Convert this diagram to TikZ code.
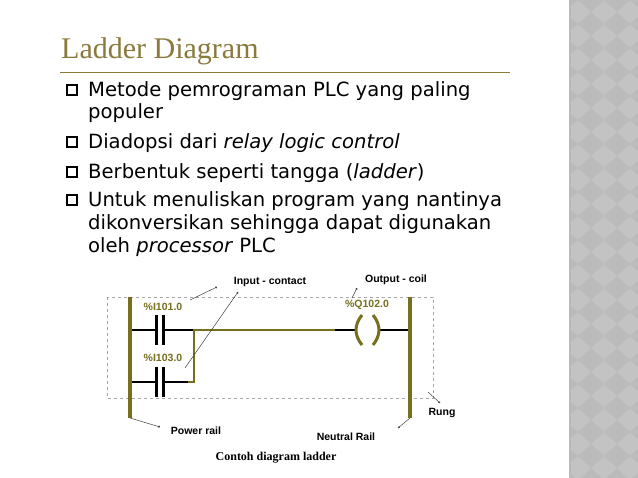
\documentclass[tikz,border=0pt]{standalone}
\usepackage{fontspec}
\usetikzlibrary{arrows.meta}
\setmainfont{Liberation Serif}
\newfontfamily\bodyf{DejaVu Sans}
\newfontfamily\labf{Liberation Sans}
\definecolor{olivet}{HTML}{8A7A3C}
\definecolor{rail}{HTML}{76701E}
\definecolor{stripg}{HTML}{BBBBBB}
\begin{document}
\begin{tikzpicture}[x=1pt,y=-1pt,
  bul/.style={anchor=base west,inner sep=0,font=\bodyf\fontsize{19.6}{20}\selectfont},
  box/.style={draw=black,line width=1.6pt,minimum size=10pt,inner sep=0},
  lab/.style={inner sep=0,font=\labf\bfseries\fontsize{10.5}{10.5}\selectfont},
  tag/.style={lab,text=rail,font=\labf\bfseries\fontsize{10.5}{10.5}\selectfont},
  wire/.style={line width=2.8pt,black},
  owire/.style={line width=2.8pt,rail},
  rl/.style={line width=4pt,rail},
  plate/.style={line width=3pt,black},
  lead/.style={black!75,line width=0.5pt,-{Circle[length=2pt]}}]
\useasboundingbox (0,0) rectangle (638,478);
\fill[white] (0,0) rectangle (638,478);
\fill[stripg] (569,0) rectangle (638,478);
\foreach \i in {0,...,20}{\foreach \j in {0,1,2}{
  \fill[stripg!88!white] ({578+\j*26},{\i*24}) -- ({591+\j*26},{\i*24+12}) -- ({578+\j*26},{\i*24+24}) -- ({565+\j*26},{\i*24+12}) -- cycle;}}
\fill[white] (565,0) rectangle (569,478);
\fill[gray!55] (569,0) rectangle (571,478);
\node[anchor=base west,inner sep=0,text=olivet,font=\fontsize{30}{30}\selectfont] (title) at (61,59) {Ladder Diagram};
\draw[olivet,line width=0.8pt] (60,72) -- (510,72);
\foreach \y/\n in {97/b1,149/b2,179/b3,207/b4}{\node[box] (\n) at (72,\y-7) {};}
\node[bul] (t1) at (88,97) {Metode pemrograman PLC yang paling};
\node[bul] (t1b) at (88,119) {populer};
\node[bul] (t2) at (88,149) {Diadopsi dari \textit{relay logic control}};
\node[bul] (t3) at (88,179) {Berbentuk seperti tangga (\textit{ladder})};
\node[bul] (t4) at (88,207) {Untuk menuliskan program yang nantinya};
\node[bul] (t4b) at (88,230) {dikonversikan sehingga dapat digunakan};
\node[bul] (t4c) at (88,253) {oleh \textit{processor} PLC};
% diagram
\draw[gray!70,dashed,line width=0.6pt] (107,297) rectangle (433,398);
\coordinate (lt) at (130,297); \coordinate (lb) at (130,418);
\coordinate (rt) at (410,297); \coordinate (rb) at (410,418);
\draw[wire] (130,330) -- (155,330) (163,330) -- (194,330);
\draw[wire] (130,382) -- (155,382) (163,382) -- (194,382);
\draw[owire] (193,330) -- (335,330);
\draw[owire] (194,330) -- (194,382) -- (188,382);
\draw[wire] (335,330) -- (357,330) (379,330) -- (410,330);
\foreach \y in {330,382}{\draw[plate] (156,\y-15) -- (156,\y+15) (163,\y-15) -- (163,\y+15);}
\draw[rail,line width=3pt] (362,315) .. controls (354,325) and (354,335) .. (362,345);
\draw[rail,line width=3pt] (373,315) .. controls (381,325) and (381,335) .. (373,345);
\draw[rl] (lt) -- (lb);
\draw[rl] (rt) -- (rb);
\node[tag] (i1) at (163,307) {\%I101.0};
\node[tag] (i3) at (163,358) {\%I103.0};
\node[tag] (q2) at (367,305) {\%Q102.0};
\node[lab] (ic) at (270,282) {Input - contact};
\node[lab] (oc) at (396,280) {Output - coil};
\node[lab] (rg) at (442,413) {Rung};
\node[lab] (pr) at (196,431) {Power rail};
\node[lab] (nr) at (346,437) {Neutral Rail};
\node[inner sep=0,font=\bfseries\fontsize{12}{12}\selectfont] (cap) at (276,458) {Contoh diagram ladder};
\coordinate (a1) at (190,300); \coordinate (a1e) at (217,287);
\coordinate (a2) at (185,368); \coordinate (a2e) at (238,292);
\coordinate (a3) at (352,298); \coordinate (a3e) at (357,288);
\coordinate (a4) at (428,392); \coordinate (a4e) at (440,403);
\coordinate (a5e) at (160,427); \coordinate (a6e) at (398,428);
\draw[lead] (a1) -- (a1e);
\draw[lead] (a2) -- (a2e);
\draw[lead] (a3) -- (a3e);
\draw[lead] (a4) -- (a4e);
\draw[lead] (lb) -- (a5e);
\draw[lead] (rb) -- (a6e);
\end{tikzpicture}
\end{document}
